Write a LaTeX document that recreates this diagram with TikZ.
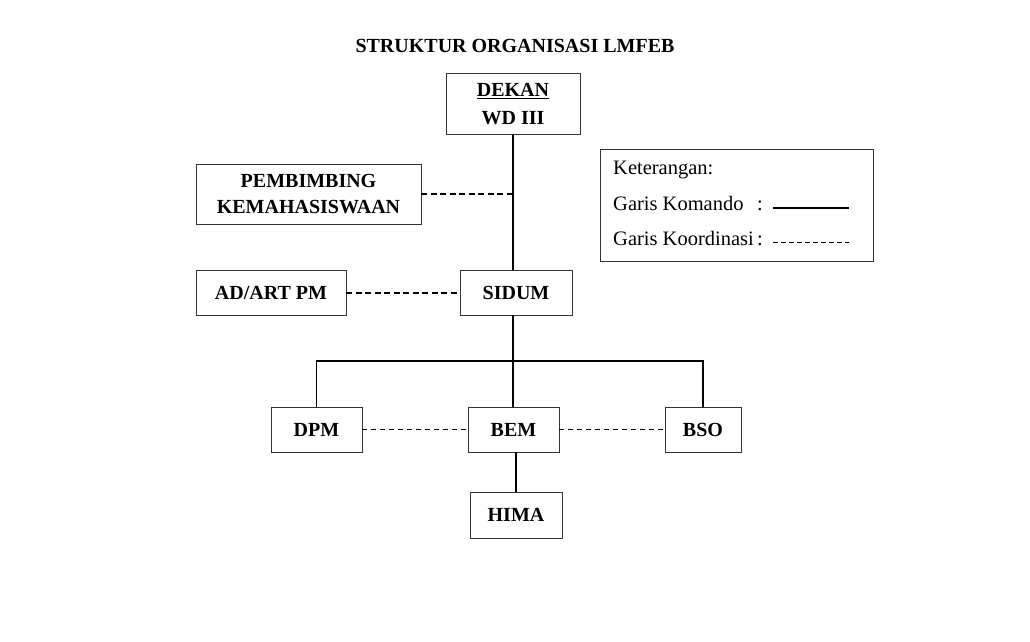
\documentclass[tikz,border=0pt]{standalone}
\usepackage{fontspec}
\setmainfont{Liberation Serif}
\usepackage{tikz}
\usetikzlibrary{positioning,calc}
\definecolor{lineGrey}{HTML}{333333}

\begin{document}
\begin{tikzpicture}[x=1pt,y=-1pt,
  unit/.style={draw=lineGrey,line width=0.9pt,font=\fontsize{20}{26}\selectfont\bfseries,align=center,inner sep=0pt},
  komando/.style={line width=2.2pt},
  bus/.style={line width=1.3pt},
  koord/.style={line width=2pt,dash pattern=on 6pt off 3.5pt},
  koordthin/.style={line width=1pt,dash pattern=on 5pt off 4pt},
  legtext/.style={anchor=west,inner sep=0pt,font=\fontsize{20.5}{24}\selectfont}]
\useasboundingbox[fill=white] (0,0) rectangle (1030,642);
\node[font=\fontsize{20}{24}\selectfont\bfseries] (judul) at (515,46) {STRUKTUR ORGANISASI LMFEB};
% unit
\node[unit,font=\fontsize{20}{28}\selectfont\bfseries,minimum width=134pt,minimum height=61pt] (dekan) at (513,104) {\underline{DEKAN}\\WD III};
\node[unit,minimum width=225pt,minimum height=60pt] (pembimbing) at (308.5,194) {PEMBIMBING\\KEMAHASISWAAN};
\node[unit,minimum width=150pt,minimum height=45pt] (adart) at (271,292.5) {AD/ART PM};
\node[unit,minimum width=112pt,minimum height=45pt] (sidum) at (516,292.5) {SIDUM};
\node[unit,minimum width=91pt,minimum height=45pt] (dpm) at (316.5,429.5) {DPM};
\node[unit,minimum width=91pt,minimum height=45pt] (bem) at (513.5,429.5) {BEM};
\node[unit,minimum width=76pt,minimum height=45pt] (bso) at (703,429.5) {BSO};
\node[unit,minimum width=92pt,minimum height=46pt] (hima) at (516,515) {HIMA};
% garis komando
\coordinate (sumbu) at (513,361);
\draw[komando] (dekan.south) -- (dekan.south |- sidum.north);
\draw[komando] (sumbu |- sidum.south) -- (sumbu);
\draw[bus] (dpm.north) |- (sumbu) -| (bso.north);
\draw[bus] (sumbu) -- (sumbu |- bem.north);
\draw[bus] (bem.south -| hima.north) -- (hima.north);
% garis koordinasi
\draw[koord] (pembimbing.east) -- (pembimbing.east -| dekan.south);
\draw[koord] (adart.east) -- (sidum.west);
\draw[koordthin] (dpm.east) -- (bem.west);
\draw[koordthin] (bem.east) -- (bso.west);
% keterangan
\node[draw=lineGrey,line width=0.9pt,minimum width=273pt,minimum height=112pt,inner sep=0pt] (ket) at (736.5,205) {};
\node[legtext] (ketjudul) at (613,170) {Keterangan:};
\node[legtext] (ketkom) at (613,204) {Garis Komando\ \ \,:};
\node[legtext] (ketkoord) at (613,239) {Garis Koordinasi\,:};
\coordinate (komA) at (773,208);
\coordinate (komB) at (849,208);
\coordinate (koordA) at (773,242);
\coordinate (koordB) at (849,242);
\draw[line width=2.2pt] (komA) -- (komB);
\draw[line width=0.9pt,dash pattern=on 5pt off 3pt] (koordA) -- (koordB);
\end{tikzpicture}
\end{document}
